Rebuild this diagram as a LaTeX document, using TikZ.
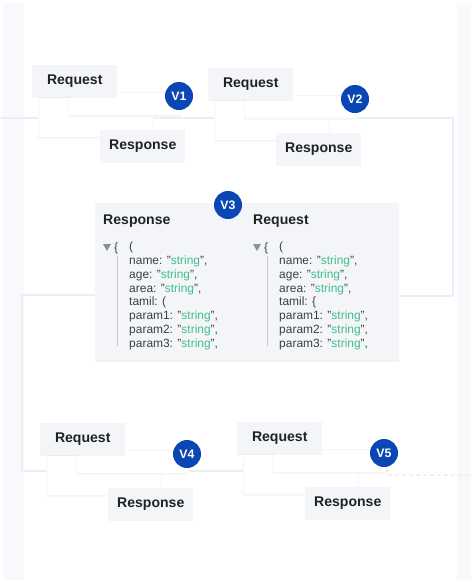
\documentclass[tikz,border=0pt]{standalone}
\usepackage{fontspec}
\setmainfont{Liberation Sans}
\usetikzlibrary{shadows}

\definecolor{ink}{HTML}{1E2228}
\definecolor{codeink}{HTML}{3A3F47}
\definecolor{strgreen}{HTML}{3FBF86}
\definecolor{markgray}{HTML}{8A8F98}
\definecolor{verblue}{HTML}{0A46B4}
\definecolor{cardgray}{HTML}{F4F5F8}
\definecolor{wiregray}{HTML}{ECEEF1}
\definecolor{bandgray}{HTML}{F8F9FC}

\newcommand{\dq}{\symbol{34}}
\newcommand{\strv}{\dq\textcolor{strgreen}{string}\dq}

\begin{document}
\begin{tikzpicture}[x=0.03cm, y=-0.03cm,
    card/.style={anchor=north west, fill=cardgray, minimum width=2.55cm, minimum height=0.93cm, inner sep=0pt,
      font=\fontsize{12}{14}\selectfont\bfseries, text=ink,
      drop shadow={opacity=0.08, shadow xshift=0pt, shadow yshift=-1.5pt}},
    layer/.style={fill=white, draw=black!4, drop shadow={opacity=0.05, shadow xshift=0pt, shadow yshift=-1.5pt}},
    ver/.style={circle, fill=verblue, text=white, minimum size=0.84cm, inner sep=0pt,
      font=\fontsize{10.5}{12}\selectfont\bfseries},
    panel/.style={anchor=north west, fill=cardgray, minimum height=4.71cm, inner sep=0pt,
      drop shadow={opacity=0.1, shadow xshift=0pt, shadow yshift=-1.5pt}},
    title/.style={anchor=west, inner sep=0pt, font=\fontsize{12}{14}\selectfont\bfseries, text=ink},
    code/.style={anchor=west, inner sep=0pt, text height=1.6ex, text depth=0.4ex,
      font=\fontsize{10.2}{12}\selectfont, text=codeink},
    wire/.style={draw=wiregray, line width=1.6pt}]

  \useasboundingbox (0,0) rectangle (474,583);
  \fill[white] (0,0) rectangle (474,583);
  \fill[bandgray] (3,3) rectangle (24,580);
  \fill[bandgray] (457,3) rectangle (471,580);

  % track behind the cards
  \coordinate (inL) at (0,118);
  \coordinate (wireR) at (453,296);
  \coordinate (endR) at (380,296);
  \coordinate (startL) at (120,295);
  \coordinate (wireL) at (22,471);
  \coordinate (outR) at (388,471);
  \coordinate (outE) at (472,475);
  \draw[wire] (inL) -| (wireR) -- (endR);
  \draw[wire] (startL) -| (wireL) -- (outR);
  \draw[wire, dashed, draw=wiregray!80] (outR |- outE) -- (outE);

  % small versions
  \foreach \n/\x/\y in {1/32/65, 2/208/68, 4/40/423, 5/237/422} {
    \path[layer] (\x+6,\y+32) rectangle (\x+121,\y+72);
    \path[layer] (\x+36,\y+27) rectangle (\x+148,\y+50);
    \node[card] (req\n) at (\x,\y) {Request};
    \node[card] (resp\n) at (\x+68,\y+65) {Response};
    \node[ver] (v\n) at (\x+147,\y+31) {V\n};
  }

  % V3 with the bodies
  \node[panel, minimum width=4.47cm] (req3) at (250,203) {};
  \node[panel, minimum width=4.65cm] (resp3) at (95,203) {};
  \node[ver] (v3) at (228,205) {V3};

  \foreach \p/\x/\head/\tam in {resp/103/Response/{(}, req/253/Request/{\{}} {
    \node[title] (\p3t) at (\x,221) {\head};
    \fill[markgray] (\x,244) -- (\x+8,244) -- (\x+4,251) -- cycle;
    \node[code] (\p3b) at (\x+11,248) {\{};
    \draw[markgray!50, line width=0.8pt] (\x+14,256) -- (\x+14,346);
    \node[code] (\p3o) at (\x+26,247) {(};
    \foreach \t [count=\i] in {{name: \strv,}, {age: \strv,}, {area: \strv,}, {tamil: \tam},
        {param1: \strv,}, {param2: \strv,}, {param3: \strv,}}
      \node[code] (\p3c\i) at (\x+26,247.25+13.75*\i) {\t};
  }
\end{tikzpicture}
\end{document}
